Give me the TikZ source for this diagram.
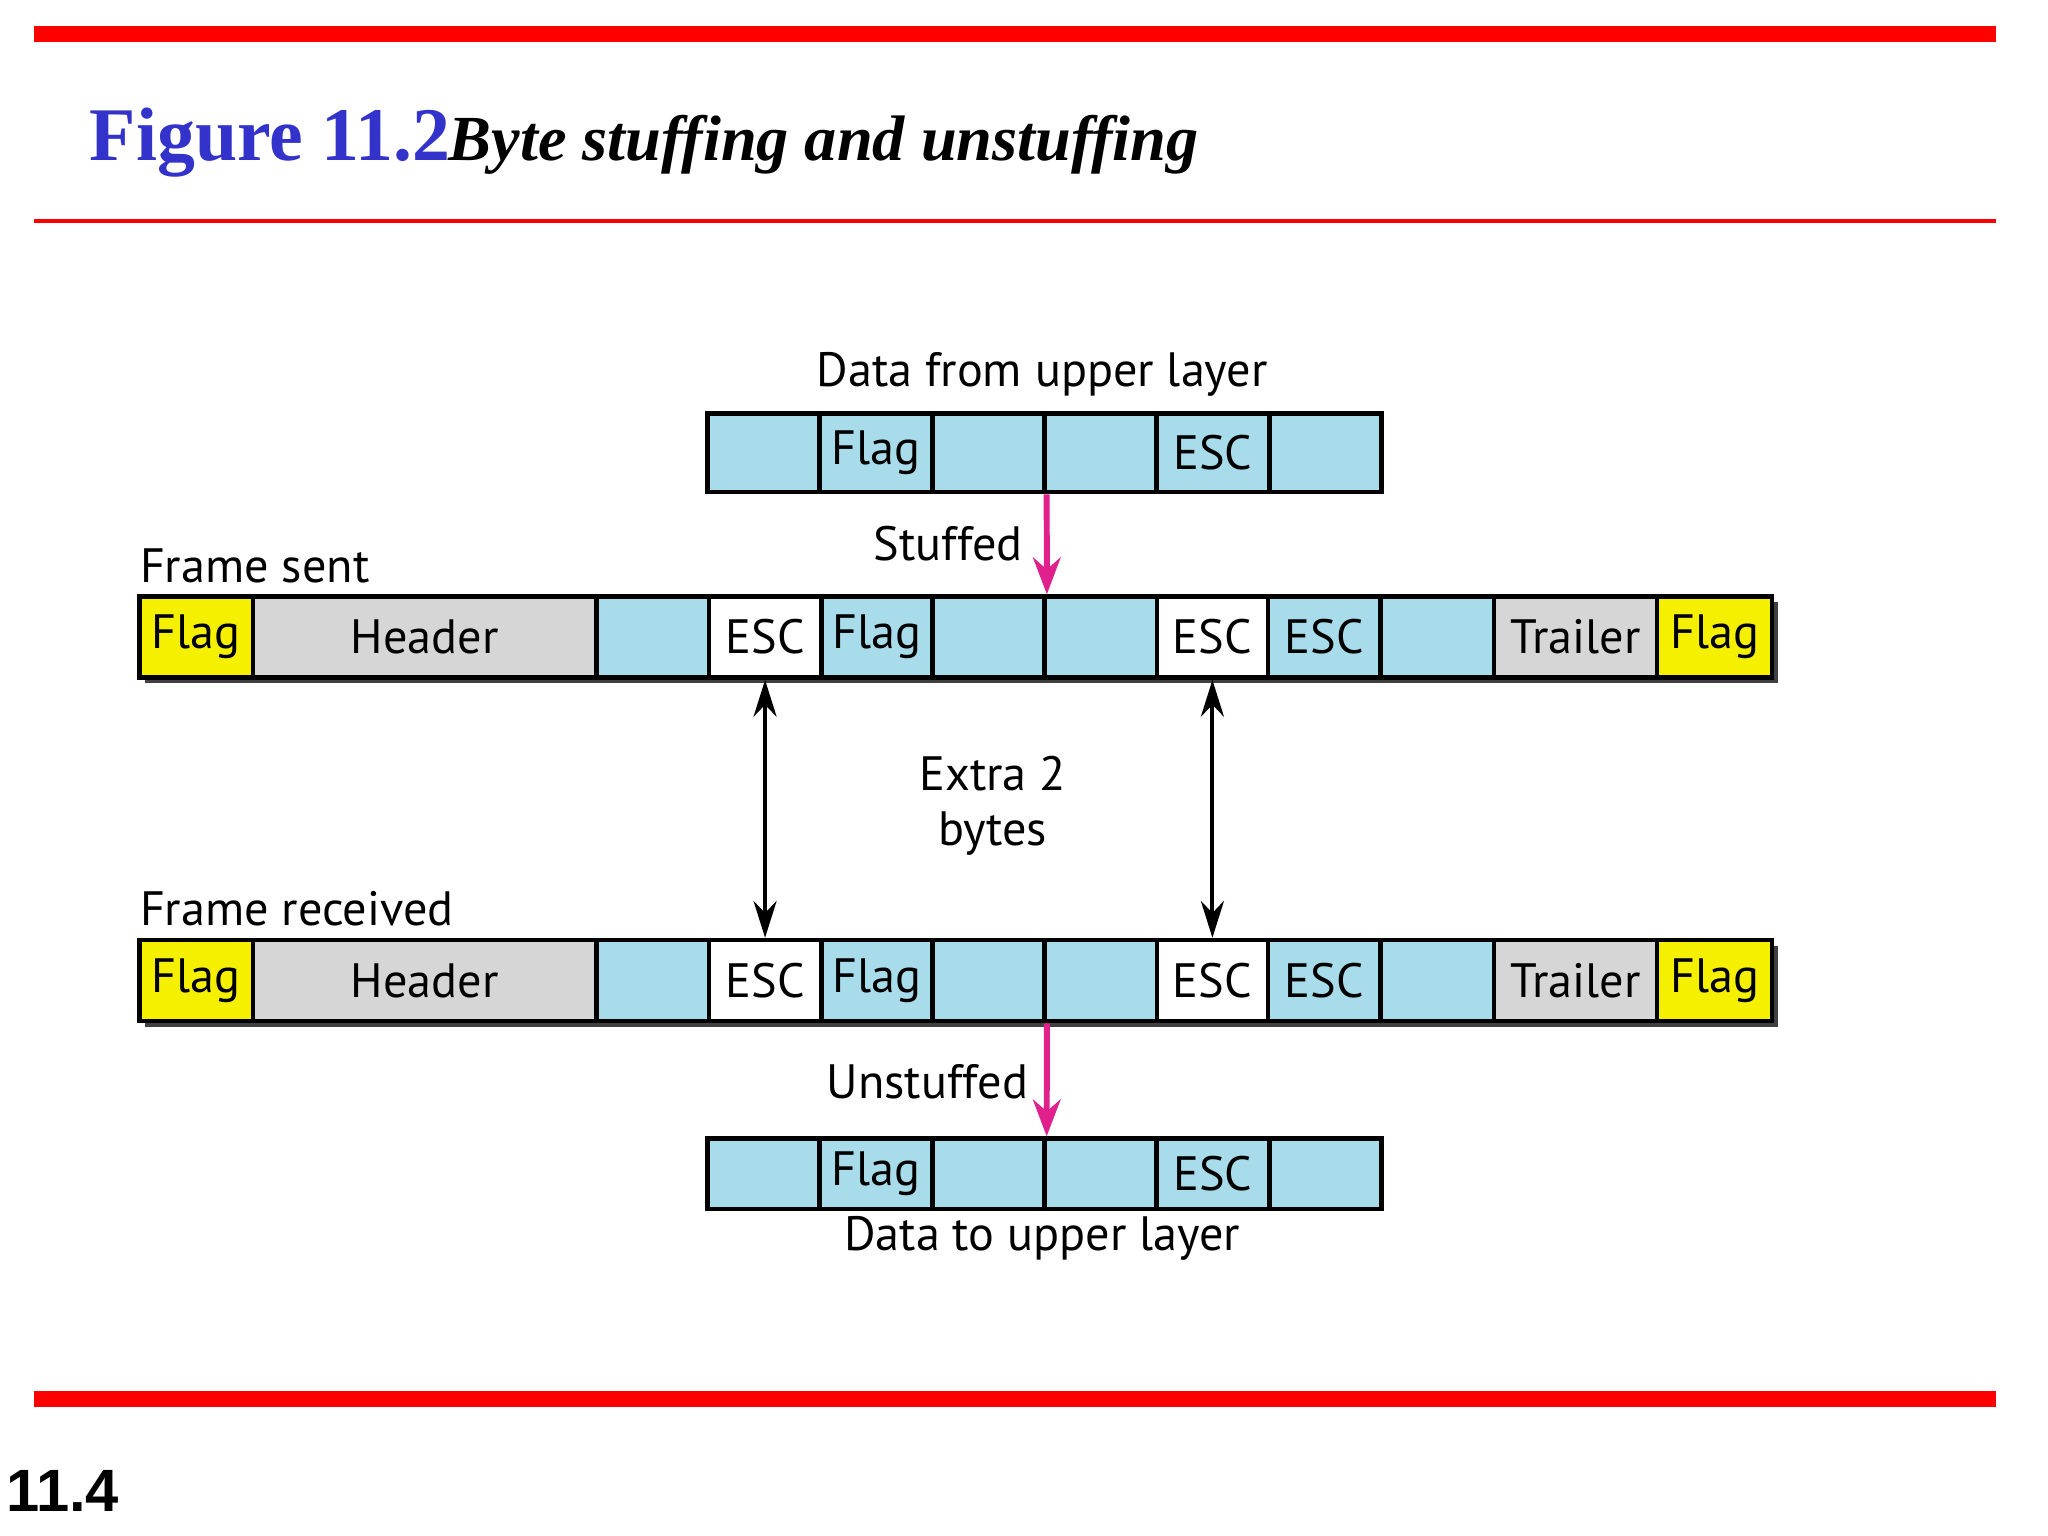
\documentclass[tikz,border=0pt]{standalone}
\usepackage{fontspec}
\setmainfont{Liberation Serif}
\newfontfamily\lab{PT Sans}
\newfontfamily\hv{Liberation Sans}
\usetikzlibrary{arrows.meta}
\definecolor{cellblue}{HTML}{A8DCEA}
\definecolor{cellgray}{HTML}{D6D6D6}
\definecolor{cellyel}{HTML}{F5F000}
\definecolor{figblue}{HTML}{3333CC}
\definecolor{mag}{HTML}{E0208C}
\tikzset{
  cell/.style={draw=black, line width=1pt, inner sep=0pt, font=\lab\fontsize{10.5}{12}\selectfont},
  lbl/.style={font=\lab\fontsize{10.5}{12}\selectfont, inner sep=1pt},
  redbar/.style={fill=red, draw=none},
  stuffarrow/.style={draw=mag, line width=1.3pt, -{Stealth[length=8pt,width=6pt]}},
  extraarrow/.style={draw=black, line width=0.9pt, {Stealth[length=8pt,width=5pt]}-{Stealth[length=8pt,width=5pt]}},
}
\begin{document}
\begin{tikzpicture}[x=0.01cm,y=-0.01cm]
\useasboundingbox (0,0) rectangle (1568,1176);
\fill[white] (0,0) rectangle (1568,1176);
\fill[redbar] (26,20) rectangle (1528,32);
\fill[redbar] (26,168) rectangle (1528,171);
\fill[redbar] (26,1065) rectangle (1528,1077);
\node[anchor=base west, inner sep=0, text=figblue, font=\bfseries\fontsize{16.5}{18}\selectfont] (fig) at (68,123) {Figure 11.2};
\node[anchor=base west, inner sep=0, font=\bfseries\itshape\fontsize{14}{16}\selectfont] (ttl) at (343,123) {Byte stuffing and unstuffing};
\node[anchor=base west, inner sep=0, font=\hv\bfseries\fontsize{13}{15}\selectfont] (pg) at (4,1157) {11.4};
% frames
\foreach \yy/\nm in {455/s,718/r}{
  \fill[black!75] (111,\yy+6) rectangle (1361,\yy+68);
  \foreach \a/\b/\c/\t [count=\i] in {105/192/cellyel/Flag,192/455/cellgray/Header,455/541/cellblue/,541/627/white/ESC,627/712/cellblue/Flag,712/798/cellblue/,798/884/cellblue/,884/969/white/ESC,969/1055/cellblue/ESC,1055/1142/cellblue/,1142/1267/cellgray/Trailer,1267/1355/cellyel/Flag}{
    \node[cell, fill=\c, minimum width={(\b-\a)*0.01cm}, minimum height=0.62cm, anchor=north west] (\nm\i) at (\a,\yy) {\t};
  }
}
\foreach \yy/\hh/\nm in {315/60/u,870/54/d}{
  \foreach \a/\t [count=\i] in {540/,626/Flag,712/,798/,884/ESC,970/}{
    \node[cell, fill=cellblue, minimum width=0.858cm, minimum height={\hh*0.01cm}, anchor=north west] (\nm\i) at (\a,\yy) {\t};
  }
}
\node[lbl] (tup) at (798,287) {Data from upper layer};
\node[lbl] (tdn) at (798,948) {Data to upper layer};
\node[lbl, anchor=west] (fs) at (103,433) {Frame sent};
\node[lbl, anchor=west] (fr) at (103,696) {Frame received};
\node[lbl] (st) at (726,416) {Stuffed};
\node[lbl] (us) at (710,828) {Unstuffed};
\node[lbl, align=center] (ex) at (760,617) {Extra 2\\bytes};
\draw[stuffarrow] (u3.south east) -- (s6.north east);
\draw[stuffarrow] (r6.south east) -- (d3.north east);
\draw[extraarrow] (s4.south) -- (r4.north);
\draw[extraarrow] (s8.south) -- (r8.north);
\end{tikzpicture}
\end{document}
